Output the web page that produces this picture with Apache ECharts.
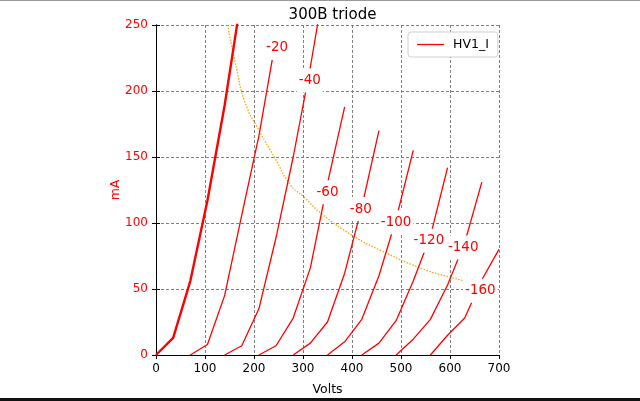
<!DOCTYPE html>
<html>
<head>
<meta charset="utf-8">
<script src="https://cdn.jsdelivr.net/npm/echarts@6/dist/echarts.min.js"></script>
<style>
html, body { margin: 0; padding: 0; background: #fff; }
#chart { width: 640px; height: 401px; }
</style>
</head>
<body>
<div id="chart"></div>
<script>
// plate voltage sweep (V)
var volts = [0, 35, 70, 105, 140, 175, 210, 245, 280, 315, 350,
	385, 420, 455, 490, 525, 560, 595, 630, 665, 700];

// plate current (mA) for each grid bias, null = not drawn
var g0 = [0, 13, 56, 117, 189, 273, null, null, null, null, null,
	null, null, null, null, null, null, null, null, null, null];
var g20 = [null, null, 0, 8, 45, 106, 166, 240, null, null, null,
	null, null, null, null, null, null, null, null, null, null];
var g40 = [null, null, null, null, 0, 7, 35, 89, 150, 218, 295,
	null, null, null, null, null, null, null, null, null, null];
var g60 = [null, null, null, null, null, null, 0, 7, 28, 66, 130,
	188, null, null, null, null, null, null, null, null, null];
var g80 = [null, null, null, null, null, null, null, null, 0, 9, 25,
	62, 112, 170, null, null, null, null, null, null, null];
var g100 = [null, null, null, null, null, null, null, null, null, null, 0,
	10, 27, 60, 103, 155, null, null, null, null, null];
var g120 = [null, null, null, null, null, null, null, null, null, null, null,
	null, 0, 9, 26, 56, 90, 142, null, null, null];
var g140 = [null, null, null, null, null, null, null, null, null, null, null,
	null, null, null, 0, 12, 27, 53, 85, 131, null];
var g160 = [null, null, null, null, null, null, null, null, null, null, null,
	null, null, null, null, null, 0, 15, 28, 57, 80];

var curves = [g0, g20, g40, g60, g80, g100, g120, g140, g160];

// dissipation limit curve
var limitVolts = [146, 161, 182, 212, 243, 274, 301, 338, 403, 457, 539, 600, 675];
var limitAmps = [250, 223, 191, 169, 149, 129, 120, 107, 90, 79.5, 66, 59, 52];

// inline bias labels
var labelText = ['-20', '-40', '-60', '-80', '-100', '-120', '-140', '-160'];
var labelVolts = [247, 314, 350, 418, 490, 557, 627, 662];
var labelAmps = [232.6, 208, 123.3, 110.6, 100.5, 86.5, 81.4, 48.6];

function pairs(xs, ys) {
	var out = [];
	for (var i = 0; i < xs.length; i++) {
		if (ys[i] !== null) {
			out.push([xs[i], ys[i]]);
		}
	}
	return out;
}

var font = 'DejaVu Sans';
var series = [];
for (var c = 0; c < curves.length; c++) {
	series.push({
		name : 'HV1_I',
		type : 'line',
		symbol : 'none',
		data : pairs(volts, curves[c]),
		lineStyle : {
			color : '#ff0000',
			width : c == 0 ? 2.4 : 1.3
		},
		itemStyle : { color : '#ff0000' },
		z : 3
	});
}

series.push({
	name : 'limit',
	type : 'line',
	symbol : 'none',
	smooth : true,
	data : pairs(limitVolts, limitAmps),
	lineStyle : {
		color : '#ffa500',
		width : 1.3,
		type : [1.5, 1.5]
	},
	z : 2
});

// labels drawn with a white box over the curves
var labelData = [];
for (var k = 0; k < labelText.length; k++) {
	labelData.push({
		value : [labelVolts[k], labelAmps[k]],
		label : { formatter : labelText[k] }
	});
}
series.push({
	name : 'labels',
	type : 'scatter',
	symbol : 'rect',
	symbolSize : 1,
	itemStyle : { color : '#ffffff', opacity : 1 },
	data : labelData,
	silent : true,
	z : 5,
	label : {
		show : true,
		position : 'inside',
		color : '#ff0000',
		opacity : 1,
		textBorderWidth : 0,
		fontFamily : font,
		fontSize : 13.5,
		backgroundColor : '#ffffff',
		padding : [5, 2]
	},
	emphasis : { disabled : true }
});

var chart = echarts.init(document.getElementById('chart'), null, { renderer : 'canvas' });

var option = {
	backgroundColor : '#ffffff',
	animation : false,
	title : {
		text : '300B triode',
		left : 327.5,
		top : 3,
		textAlign : 'center',
		textStyle : {
			fontFamily : font,
			fontSize : 15,
			fontWeight : 'normal',
			color : '#000'
		}
	},
	legend : {
		data : [ { name : 'HV1_I', icon : 'rect' } ],
		left : 408,
		top : 32,
		padding : [ 6, 9 ],
		itemWidth : 27,
		itemHeight : 1.3,
		itemGap : 10,
		borderColor : '#d0d0d0',
		borderWidth : 1,
		borderRadius : 3,
		backgroundColor : '#ffffff',
		itemStyle : { color : '#ff0000' },
		textStyle : {
			fontFamily : font,
			fontSize : 12.5,
			color : '#000',
			padding : [ 0, 0, 0, 4 ]
		}
	},
	grid : {
		left : 156,
		top : 25,
		width : 343,
		height : 330
	},
	xAxis : [ {
		type : 'value',
		min : 0,
		max : 700,
		interval : 100,
		name : 'Volts',
		nameLocation : 'middle',
		nameGap : 28,
		nameMoveOverlap : false,
		nameTextStyle : { fontFamily : font, fontSize : 12.5, color : '#000' },
		axisLine : { lineStyle : { color : '#000', width : 1 } },
		axisTick : { length : 4, lineStyle : { color : '#000' } },
		axisLabel : { fontFamily : font, fontSize : 12, color : '#000', margin : 8 },
		splitLine : { show : true, lineStyle : { color : '#808080', type : [ 3, 2 ], width : 1 } }
	}, {
		type : 'value',
		position : 'top',
		min : 0,
		max : 700,
		interval : 100,
		axisLine : { show : true, lineStyle : { color : '#000', width : 1 } },
		axisTick : { show : false },
		axisLabel : { show : false },
		splitLine : { show : false }
	} ],
	yAxis : [ {
		type : 'value',
		min : 0,
		max : 250,
		interval : 50,
		name : 'mA',
		nameLocation : 'middle',
		nameGap : 34,
		nameMoveOverlap : false,
		nameTextStyle : { fontFamily : font, fontSize : 12.5, color : '#ff0000' },
		axisLine : { show : true, lineStyle : { color : '#000', width : 1 } },
		axisTick : { show : true, length : 4, lineStyle : { color : '#000' } },
		axisLabel : { fontFamily : font, fontSize : 12, color : '#ff0000', margin : 8 },
		splitLine : { show : true, lineStyle : { color : '#808080', type : [ 3, 2 ], width : 1 } }
	}, {
		type : 'value',
		position : 'right',
		min : 0,
		max : 250,
		interval : 50,
		axisLine : { show : true, lineStyle : { color : '#000', width : 1 } },
		axisTick : { show : true, length : 4, lineStyle : { color : '#000' } },
		axisLabel : { show : false },
		splitLine : { show : false }
	} ],
	graphic : [ {
		type : 'rect',
		shape : { x : 0, y : 0, width : 640, height : 1 },
		style : { fill : '#999' }
	}, {
		type : 'rect',
		shape : { x : 0, y : 398, width : 640, height : 3 },
		style : { fill : '#111' }
	} ],
	series : series
};

chart.setOption(option);
</script>
</body>
</html>
